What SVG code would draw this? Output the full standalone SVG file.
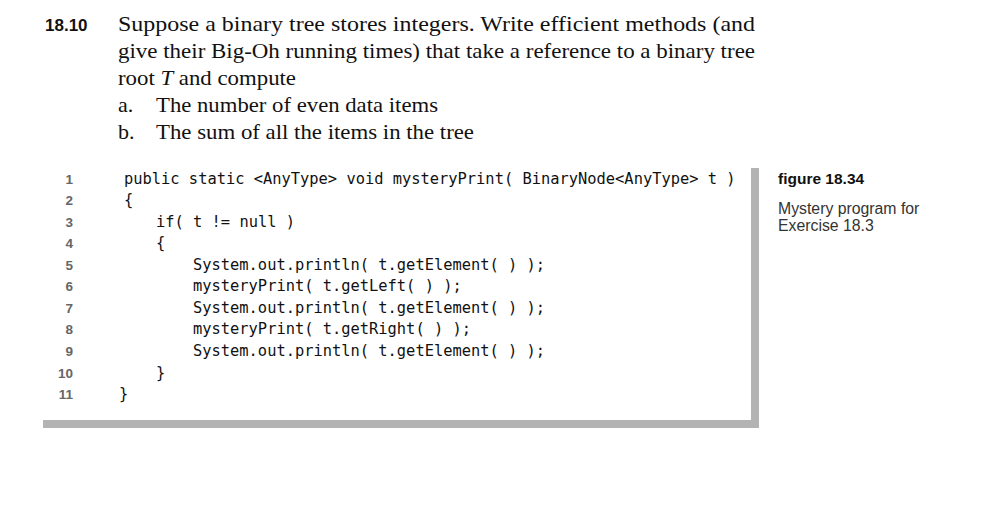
<svg xmlns="http://www.w3.org/2000/svg" width="997" height="510" viewBox="0 0 997 510">
<style>
.s{font-family:"Liberation Serif",serif;font-size:22px;fill:#111}
.n{font-family:"Liberation Sans",Arial,sans-serif;font-size:13.5px;fill:#666;font-weight:bold;text-anchor:end}
.c{font-family:"DejaVu Sans Mono",monospace;font-size:15.4px;fill:#111}
.f{font-family:"Liberation Sans",Arial,sans-serif;font-size:15.8px;fill:#333}
</style>
<rect width="997" height="510" fill="#fff"/>
<text x="45" y="31" font-family="Liberation Sans,Arial,sans-serif" font-size="17" font-weight="bold" fill="#111">18.10</text>
<text class="s" x="118" y="31" textLength="637" lengthAdjust="spacingAndGlyphs">Suppose a binary tree stores integers. Write efficient methods (and</text>
<text class="s" x="118" y="58" textLength="637" lengthAdjust="spacingAndGlyphs">give their Big-Oh running times) that take a reference to a binary tree</text>
<text class="s" x="118" y="85" textLength="178" lengthAdjust="spacingAndGlyphs">root <tspan font-style="italic">T</tspan> and compute</text>
<text class="s" x="118" y="112">a.</text><text class="s" x="156" y="112" textLength="282" lengthAdjust="spacingAndGlyphs">The number of even data items</text>
<text class="s" x="118" y="139">b.</text><text class="s" x="156" y="139" textLength="318" lengthAdjust="spacingAndGlyphs">The sum of all the items in the tree</text>
<rect x="43" y="420" width="716" height="8" fill="#b3b3b3"/>
<rect x="751" y="168" width="8" height="260" fill="#b3b3b3"/>
<g class="n">
<text x="73" y="184">1</text><text x="73" y="205">2</text><text x="73" y="227">3</text><text x="73" y="248">4</text><text x="73" y="270">5</text><text x="73" y="291">6</text><text x="73" y="313">7</text><text x="73" y="334">8</text><text x="73" y="356">9</text><text x="73" y="378">10</text><text x="73" y="399">11</text>
</g>
<g class="c">
<text x="124" y="184">public static &lt;AnyType&gt; void mysteryPrint( BinaryNode&lt;AnyType&gt; t )</text>
<text x="124" y="205">{</text>
<text x="156" y="227">if( t != null )</text>
<text x="156" y="248">{</text>
<text x="193" y="270">System.out.println( t.getElement( ) );</text>
<text x="193" y="291">mysteryPrint( t.getLeft( ) );</text>
<text x="193" y="313">System.out.println( t.getElement( ) );</text>
<text x="193" y="334">mysteryPrint( t.getRight( ) );</text>
<text x="193" y="356">System.out.println( t.getElement( ) );</text>
<text x="156" y="378">}</text>
<text x="119" y="399">}</text>
</g>
<text x="778" y="184" font-family="Liberation Sans,Arial,sans-serif" font-size="15.5" font-weight="bold" fill="#111">figure 18.34</text>
<text class="f" x="778" y="214">Mystery program for</text>
<text class="f" x="778" y="231">Exercise 18.3</text>
</svg>
